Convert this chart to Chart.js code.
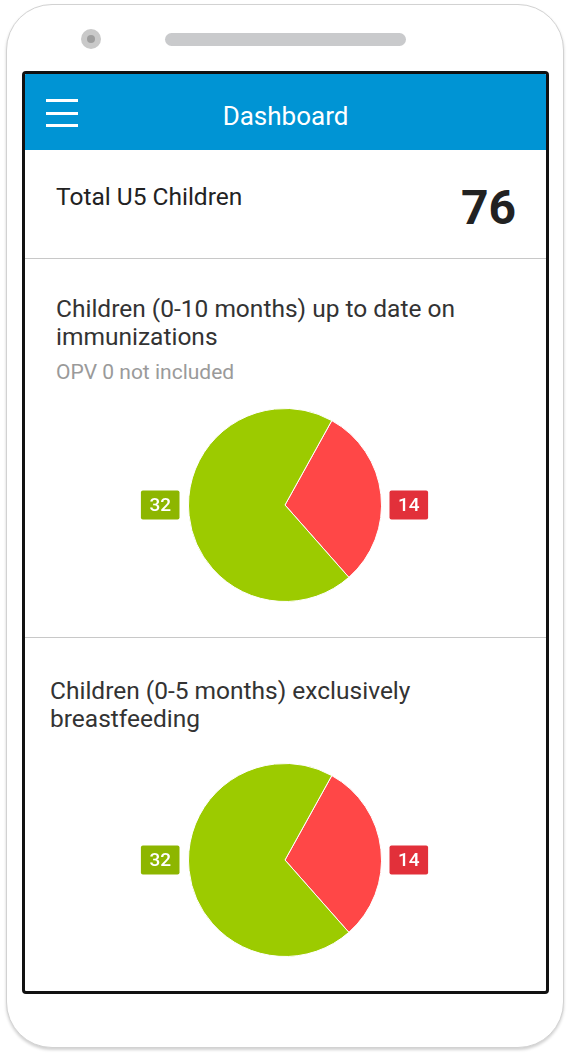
<!DOCTYPE html>
<html>
<head>
<meta charset="utf-8">
<script src="https://cdn.jsdelivr.net/npm/chart.js@4.4.1/dist/chart.umd.min.js"></script>
<style>
  body { margin: 0; background: #fff; font-family: Roboto, "Noto Sans", sans-serif; }
  .abs { position: absolute; }
  #phone { left: 6px; top: 4px; width: 556px; height: 1042px; border: 1.5px solid #d2d2d2; border-radius: 46px; box-shadow: 0 2px 3px rgba(0,0,0,0.18); background: #fff; }
  #cam { left: 81px; top: 29px; width: 20px; height: 20px; border-radius: 50%; background: #c9c9c9; }
  #cam::after { content: ""; position: absolute; left: 6px; top: 6px; width: 8px; height: 8px; border-radius: 50%; background: #9e9e9e; }
  #speaker { left: 165px; top: 33px; width: 241px; height: 13px; border-radius: 7px; background: #c9cacc; }
  #screen { left: 22px; top: 71px; width: 521px; height: 917px; border: 3px solid #111; border-radius: 4px; background: #fff; overflow: hidden; }
  #header { left: 0; top: 0; width: 521px; height: 76px; background: #0094d4; }
  .bar { position: absolute; left: 21px; width: 32px; height: 3px; background: #fff; }
  #title { position: absolute; left: 0; width: 521px; top: 27px; text-align: center; color: #fff; font-size: 26px; }
  .txt { position: absolute; color: #333; font-size: 24.5px; line-height: 28px; white-space: nowrap; }
  .rule { position: absolute; left: 0; width: 521px; height: 1px; background: #c8c8c8; }
</style>
</head>
<body>
<div id="phone" class="abs"></div>
<div id="cam" class="abs"></div>
<div id="speaker" class="abs"></div>
<div id="screen" class="abs">
  <div id="header" class="abs">
    <div class="bar" style="top:25px"></div>
    <div class="bar" style="top:38px"></div>
    <div class="bar" style="top:50px"></div>
    <div id="title">Dashboard</div>
  </div>
  <div class="txt" style="left:31px; top:109px; color:#222;">Total U5 Children</div>
  <div class="txt" style="right:30px; top:106px; font-size:48px; line-height:56px; font-weight:bold; color:#222;">76</div>
  <div class="rule" style="top:184px"></div>
  <div class="txt" style="left:31px; top:221px;">Children (0-10 months) up to date on<br>immunizations</div>
  <div class="txt" style="left:31px; top:284px; font-size:21px; color:#9a9a9a;">OPV 0 not included</div>
  <div class="rule" style="top:563px"></div>
  <div class="txt" style="left:25px; top:603px;">Children (0-5 months) exclusively<br>breastfeeding</div>
</div>
<canvas id="pie1" class="abs" style="left:25px; top:400px;" width="520" height="210"></canvas>
<canvas id="pie2" class="abs" style="left:25px; top:755px;" width="520" height="210"></canvas>
<script>
const categories = ['No', 'Yes'];
const immunizedValues = [14, 32];
const breastfeedingValues = [14, 32];
const sliceColors = ['#ff4747', '#9ccb00'];
const badgeColors = ['#e2303a', '#8db600'];

const badgePlugin = {
    id: 'badges',
    afterDatasetsDraw(chart) {
        const ctx = chart.ctx;
        const meta = chart.getDatasetMeta(0);
        const values = chart.data.datasets[0].data;
        ctx.save();
        ctx.font = '500 19px Roboto, sans-serif';
        ctx.textBaseline = 'middle';
        ctx.textAlign = 'center';
        meta.data.forEach((arc, i) => {
            const mid = (arc.startAngle + arc.endAngle) / 2;
            const text = String(values[i]);
            const w = ctx.measureText(text).width + 17;
            const h = 29;
            let x;
            if (Math.cos(mid) < 0) {
                x = arc.x - arc.outerRadius - 9 - w;
            } else {
                x = arc.x + arc.outerRadius + 8;
            }
            const y = arc.y - h / 2;
            ctx.fillStyle = badgeColors[i];
            ctx.beginPath();
            ctx.roundRect(x, y, w, h, 2);
            ctx.fill();
            ctx.fillStyle = '#fff';
            ctx.fillText(text, x + w / 2, arc.y + 1);
        });
        ctx.restore();
    }
};

function makePie(id, values) {
    return new Chart(document.getElementById(id), {
        type: 'pie',
        data: {
            labels: categories,
            datasets: [{
                data: values,
                backgroundColor: sliceColors,
                borderColor: '#fff',
                borderWidth: 1
            }]
        },
        options: {
            responsive: false,
            animation: false,
            rotation: 29,
            layout: { padding: { top: 8, bottom: 8 } },
            plugins: {
                legend: { display: false },
                tooltip: { enabled: false }
            }
        },
        plugins: [badgePlugin]
    });
}

makePie('pie1', immunizedValues);
makePie('pie2', breastfeedingValues);
</script>
</body>
</html>
